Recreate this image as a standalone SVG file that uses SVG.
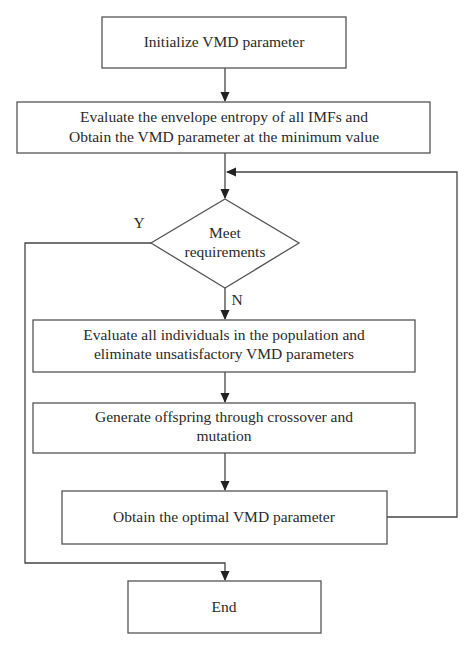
<svg xmlns="http://www.w3.org/2000/svg" width="474" height="650" viewBox="0 0 474 650">
<style>
.box{fill:#fff;stroke:#555;stroke-width:1.3}
.c{fill:none;stroke:#444;stroke-width:1.3}
text{font-family:"Liberation Serif","Times New Roman",serif;font-size:15.5px;fill:#2a2a2a;text-anchor:middle}
</style>
<defs>
<marker id="ah" markerWidth="10" markerHeight="10" refX="9" refY="5" orient="auto" markerUnits="userSpaceOnUse">
<path d="M0,0.5 L10,5 L0,9.5 Z" fill="#222"/>
</marker>
</defs>
<rect width="474" height="650" fill="#fff"/>
<g id="connectors">
<line class="c" x1="225" y1="68" x2="225" y2="101" marker-end="url(#ah)"/>
<line class="c" x1="225" y1="153" x2="225" y2="198" marker-end="url(#ah)"/>
<line class="c" x1="225" y1="288" x2="225" y2="319" marker-end="url(#ah)"/>
<line class="c" x1="225" y1="372" x2="225" y2="402" marker-end="url(#ah)"/>
<line class="c" x1="225" y1="453" x2="225" y2="490" marker-end="url(#ah)"/>
<polyline class="c" points="387,517 457,517 457,172 227,172" marker-end="url(#ah)"/>
<polyline class="c" points="151,243 25,243 25,563 225,563 225,580" marker-end="url(#ah)"/>
<text x="139" y="228">Y</text>
<text x="237" y="305">N</text>
</g>
<g id="n1"><rect class="box" x="102" y="17" width="244" height="51"/><text x="224" y="47">Initialize VMD parameter</text></g>
<g id="n2"><rect class="box" x="17" y="102" width="413" height="51"/><text x="224" y="122">Evaluate the envelope entropy of all IMFs and</text><text x="224" y="142">Obtain the VMD parameter at the minimum value</text></g>
<g id="n3"><polygon class="box" points="225,199 299,243 225,288 151,243"/><text x="225" y="238">Meet</text><text x="225" y="257">requirements</text></g>
<g id="n4"><rect class="box" x="33" y="320" width="382" height="52"/><text x="224" y="340">Evaluate all individuals in the population and</text><text x="224" y="359">eliminate unsatisfactory VMD parameters</text></g>
<g id="n5"><rect class="box" x="33" y="403" width="382" height="50"/><text x="224" y="422">Generate offspring through crossover and</text><text x="224" y="441">mutation</text></g>
<g id="n6"><rect class="box" x="62" y="491" width="325" height="53"/><text x="224" y="522">Obtain the optimal VMD parameter</text></g>
<g id="n7"><rect class="box" x="128" y="581" width="193" height="52"/><text x="224" y="612">End</text></g>
</svg>
